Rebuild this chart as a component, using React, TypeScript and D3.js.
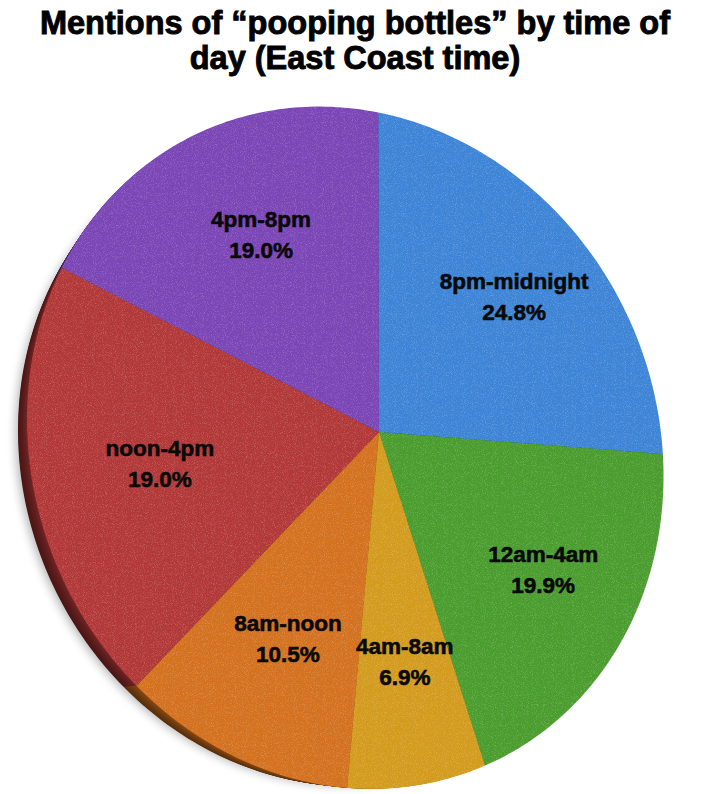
import React, { useEffect, useRef } from 'react';
import * as d3 from 'd3';

// slices, clockwise from 12 o'clock
const timeSlots = ['8pm-midnight', '12am-4am', '4am-8am', '8am-noon', 'noon-4pm', '4pm-8pm'];
const mentionShares = [24.8, 19.9, 6.9, 10.5, 19.0, 19.0];
const slotColors = ['#3d84d6', '#4a9c2e', '#d39b1e', '#d3711f', '#b23838', '#7a45b5'];
const titleLines = ['Mentions of \u201cpooping bottles\u201d by time of', 'day (East Coast time)'];

type Pt = [number, number];

export default function App() {
  const svgRef = useRef<SVGSVGElement>(null);

  useEffect(() => {
    if (!svgRef.current) return;
    const width = 710;
    const height = 794;

    const svg = d3.select(svgRef.current).attr('width', width).attr('height', height);
    svg.selectAll('*').remove();

    // camera looking at a tilted disc (pie face), hub lands at `hub`
    const hub: Pt = [379, 432];
    const tilt = (27 * Math.PI) / 180;
    const farDir = (-25 * Math.PI) / 180;
    const spin = (2.5 * Math.PI) / 180;
    const camDist = 3.8;
    const focal = 1310;
    const thickness = 0.14;
    const u: Pt = [Math.cos(farDir), Math.sin(farDir)];
    const v: Pt = [-Math.sin(farDir), Math.cos(farDir)];

    const project = (angle: number, r: number, z = 0): Pt => {
      const a = angle + spin;
      const px = r * Math.sin(a);
      const py = -r * Math.cos(a);
      const s = px * u[0] + py * u[1];
      const q = px * v[0] + py * v[1];
      const along = s * Math.cos(tilt) - z * Math.sin(tilt);
      const depth = s * Math.sin(tilt) + z * Math.cos(tilt);
      const k = focal / (camDist + depth);
      return [hub[0] + (along * u[0] + q * v[0]) * k, hub[1] + (along * u[1] + q * v[1]) * k];
    };

    const pie = d3.pie<number>().sort(null).value(d => d);
    const arcs = pie(mentionShares);
    const line = d3.line<Pt>();

    const slicePath = (a: d3.PieArcDatum<number>, z: number) => {
      const n = Math.max(2, Math.ceil(((a.endAngle - a.startAngle) / (2 * Math.PI)) * 360));
      const pts: Pt[] = [project(0, 0, z)];
      for (let i = 0; i <= n; i++) {
        pts.push(project(a.startAngle + ((a.endAngle - a.startAngle) * i) / n, 1, z));
      }
      return line(pts) + 'Z';
    };
    const discPath = (z: number) => {
      const pts: Pt[] = d3.range(0, 361).map(d => project((d / 180) * Math.PI, 1, z));
      return line(pts) + 'Z';
    };

    const defs = svg.append('defs');
    const blur = defs.append('filter').attr('id', 'softShadow')
      .attr('x', '-20%').attr('y', '-20%').attr('width', '140%').attr('height', '140%');
    blur.append('feGaussianBlur').attr('stdDeviation', 5);

    const grain = defs.append('filter').attr('id', 'grain')
      .attr('x', 0).attr('y', 0).attr('width', '100%').attr('height', '100%');
    grain.append('feTurbulence').attr('type', 'fractalNoise')
      .attr('baseFrequency', 1.1).attr('numOctaves', 2).attr('seed', 4).attr('result', 'noise');
    grain.append('feColorMatrix').attr('in', 'noise').attr('type', 'matrix')
      .attr('values', '0 0 0 0 1  0 0 0 0 1  0 0 0 0 1  3 0 0 0 -1.45');
    grain.append('feComposite').attr('in2', 'SourceGraphic').attr('operator', 'in');

    const g = svg.append('g');

    // soft shadow under the disc
    g.append('path')
      .attr('d', discPath(thickness * 1.3))
      .attr('fill', '#000')
      .attr('opacity', 0.28)
      .attr('filter', 'url(#softShadow)');

    // side wall: stacked dark layers from back to front
    const layers = d3.range(18).map(i => thickness * (1 - i / 18));
    layers.forEach(z => {
      g.append('g').selectAll('path')
        .data(arcs)
        .enter().append('path')
        .attr('d', d => slicePath(d, z))
        .attr('fill', (d, i) => d3.color(slotColors[i])!.darker(1.2 + (z / thickness) * 1.3).toString());
    });

    // face
    g.append('g').selectAll('path')
      .data(arcs)
      .enter().append('path')
      .attr('d', d => slicePath(d, 0))
      .attr('fill', (d, i) => slotColors[i]);

    // speckle texture
    g.append('path')
      .attr('d', discPath(0))
      .attr('fill', '#fff')
      .attr('opacity', 0.2)
      .attr('filter', 'url(#grain)');

    // labels
    const labels = g.append('g')
      .attr('font-family', "'Liberation Sans', Arial, Helvetica, sans-serif")
      .attr('font-weight', 'bold')
      .attr('font-size', 22.5)
      .attr('fill', '#0a0a0a')
      .attr('stroke', '#0a0a0a')
      .attr('stroke-width', 0.6)
      .attr('text-anchor', 'middle');

    arcs.forEach((a, i) => {
      const [x, y] = project((a.startAngle + a.endAngle) / 2, 0.66, 0);
      labels.append('text').attr('x', x).attr('y', y - 8).text(timeSlots[i]);
      labels.append('text').attr('x', x).attr('y', y + 23).text(`${mentionShares[i].toFixed(1)}%`);
    });

    // title
    svg.append('g')
      .attr('font-family', "'Liberation Sans', Arial, Helvetica, sans-serif")
      .attr('font-weight', 'bold')
      .attr('font-size', 32.5)
      .attr('text-anchor', 'middle')
      .attr('fill', '#000')
      .attr('stroke', '#000')
      .attr('stroke-width', 0.9)
      .selectAll('text')
      .data(titleLines)
      .enter().append('text')
      .attr('x', 355)
      .attr('y', (d, i) => 34 + i * 35)
      .text(d => d);
  }, []);

  return (
    <svg
      ref={svgRef}
      style={{ position: 'absolute', left: 0, top: 0, display: 'block', background: '#fff' }}
    />
  );
}
